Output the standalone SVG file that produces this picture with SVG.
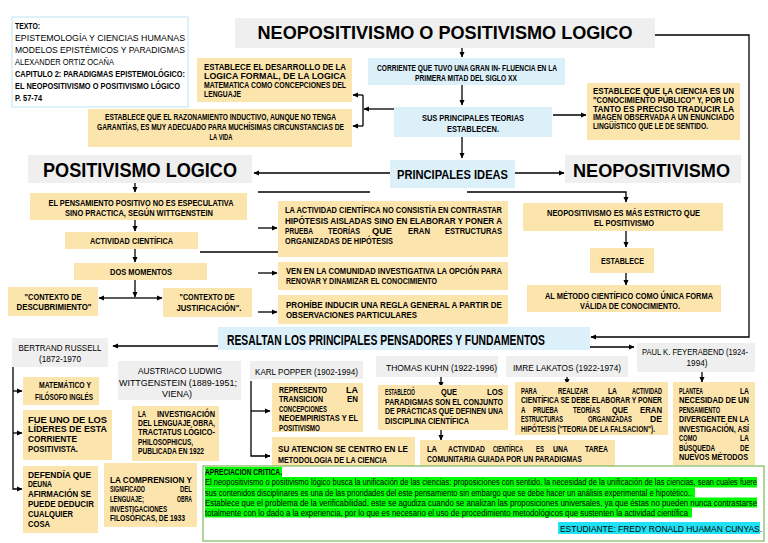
<svg xmlns="http://www.w3.org/2000/svg" width="768" height="543" viewBox="0 0 768 543">
<defs>
<marker id="ah" viewBox="0 0 10 10" refX="9" refY="5" markerWidth="6" markerHeight="6" markerUnits="userSpaceOnUse" orient="auto"><path d="M0,0.5 L10,5 L0,9.5 z" fill="#000"/></marker>
</defs>
<style>
.y{fill:#fce5ad}
.lb{fill:#dcf0fa}
.g{fill:#efefef}
.t{font-family:"Liberation Sans Narrow","Liberation Sans",Arial,sans-serif;font-weight:bold;font-size:8.3px;fill:#000}
.n{font-weight:normal}
.m{text-anchor:middle}
.h{font-family:"Liberation Sans",Arial,sans-serif;font-weight:bold;fill:#000}
.ln{stroke:#000;stroke-width:1.3;fill:none}
.ar{marker-end:url(#ah)}
</style>
<rect x="0" y="0" width="768" height="543" fill="#fff"/>

<g id="connectors">
<path class="ln ar" d="M462,48 V57"/>
<path class="ln ar" d="M462,85 V105"/>
<path class="ln ar" d="M462,137 V158"/>
<path class="ln ar" d="M394,109 H364"/>
<path class="ln" d="M363,95 V126"/>
<path class="ln ar" d="M363,95 H353"/>
<path class="ln ar" d="M363,126 H353"/>
<path class="ln ar" d="M553,115 H586"/>
<path class="ln ar" d="M655,35 H749 V337 H591"/>
<path class="ln ar" d="M390,173 H254"/>
<path class="ln ar" d="M515,173 H564"/>
<path class="ln" d="M258,192 H370"/>
<path class="ln ar" d="M467,192 H626 V202"/>
<path class="ln ar" d="M258,228 H277"/>
<path class="ln" d="M200,252 H319"/>
<path class="ln ar" d="M258,273 H277"/>
<path class="ln ar" d="M258,312 H277"/>
<path class="ln ar" d="M135,183 V192"/>
<path class="ln ar" d="M63,204 V213"/>
<path class="ln ar" d="M135,220 V231"/>
<path class="ln ar" d="M135,249 V262"/>
<path class="ln ar" d="M135,280 V297"/>
<path class="ln ar" d="M130,298 H99"/>
<path class="ln ar" d="M130,298 H162"/>
<path class="ln ar" d="M626,231 V247"/>
<path class="ln ar" d="M626,273 V285"/>
<path class="ln ar" d="M218,346 H113"/>
<path class="ln ar" d="M590,347 H634"/>
<path class="ln ar" d="M13,367 V489 H22"/>
<path class="ln ar" d="M13,391 H22"/>
<path class="ln ar" d="M13,433 H22"/>
<path class="ln ar" d="M251,381 V456 H270"/>
<path class="ln ar" d="M251,411 H270"/>
<path class="ln ar" d="M441,377 V387"/>
<path class="ln ar" d="M441,430 V440"/>
<path class="ln ar" d="M567,377 V384"/>
<path class="ln ar" d="M702,372 V382"/>
</g>

<g id="title">
<rect x="235" y="18" width="420" height="30" class="g"/>
<text x="445" y="38.5" class="h m" font-size="18" textLength="375" lengthAdjust="spacingAndGlyphs">NEOPOSITIVISMO O POSITIVISMO LOGICO</text>
</g>

<g id="texto">
<rect x="12" y="17" width="176" height="90" fill="#fff" stroke="#bfe3f2" stroke-width="1"/>
<text x="15" y="29" class="t" font-size="10.4" textLength="25" lengthAdjust="spacingAndGlyphs">TEXTO:</text>
<text x="15" y="41" class="t n" font-size="10.4" fill="#333" textLength="170" lengthAdjust="spacingAndGlyphs">EPISTEMOLOGÍA Y CIENCIAS HUMANAS</text>
<text x="15" y="53" class="t n" font-size="10.4" fill="#333" textLength="170" lengthAdjust="spacingAndGlyphs">MODELOS EPISTÉMICOS Y PARADIGMAS</text>
<text x="15" y="65" class="t n" font-size="10.4" fill="#333" textLength="99" lengthAdjust="spacingAndGlyphs">ALEXANDER ORTIZ OCAÑA</text>
<text x="15" y="77" class="t" font-size="10.4" textLength="170" lengthAdjust="spacingAndGlyphs">CAPITULO 2: PARADIGMAS EPISTEMOLÓGICO:</text>
<text x="15" y="89" class="t" font-size="10.4" textLength="165" lengthAdjust="spacingAndGlyphs">EL NEOPOSITIVISMO O POSITIVISMO LÓGICO</text>
<text x="15" y="101" class="t" font-size="10.4" textLength="27" lengthAdjust="spacingAndGlyphs">P. 57-74</text>
</g>

<g id="corriente">
<rect x="368" y="58" width="197" height="27" class="lb"/>
<text x="467" y="71" class="t m" textLength="180" lengthAdjust="spacingAndGlyphs">CORRIENTE QUE TUVO UNA GRAN IN- FLUENCIA EN LA</text>
<text x="466" y="81" class="t m" textLength="102" lengthAdjust="spacingAndGlyphs">PRIMERA MITAD DEL SIGLO XX</text>
</g>

<g id="teorias">
<rect x="394" y="107" width="158" height="30" class="lb"/>
<text x="473" y="121" class="t m" font-size="9.5" textLength="102" lengthAdjust="spacingAndGlyphs">SUS PRINCIPALES TEORIAS</text>
<text x="473" y="131.5" class="t m" font-size="9.5" textLength="52" lengthAdjust="spacingAndGlyphs">ESTABLECEN.</text>
</g>

<g id="publico">
<rect x="587" y="83" width="153" height="57" class="y"/>
<text x="593" y="94" class="t" font-size="7.8" textLength="141" lengthAdjust="spacingAndGlyphs">ESTABLECE QUE LA CIENCIA ES UN</text>
<text x="593" y="103" class="t" font-size="7.8" textLength="141" lengthAdjust="spacingAndGlyphs">"CONOCIMIENTO PÚBLICO" Y, POR LO</text>
<text x="593" y="111.7" class="t" font-size="7.8" textLength="141" lengthAdjust="spacingAndGlyphs">TANTO ES PRECISO TRADUCIR LA</text>
<text x="593" y="120.4" class="t" font-size="7.8" textLength="141" lengthAdjust="spacingAndGlyphs">IMAGEN OBSERVADA A UN ENUNCIADO</text>
<text x="593" y="129.2" class="t" font-size="7.8" textLength="115" lengthAdjust="spacingAndGlyphs">LINGÜÍSTICO QUE LE DE SENTIDO.</text>
</g>

<g id="logica">
<rect x="197" y="58" width="155" height="44" class="y"/>
<text x="204" y="70" class="t" font-size="7.8" textLength="142" lengthAdjust="spacingAndGlyphs">ESTABLECE EL DESARROLLO DE LA</text>
<text x="204" y="79" class="t" font-size="7.8" textLength="142" lengthAdjust="spacingAndGlyphs">LOGICA FORMAL, DE LA LOGICA</text>
<text x="204" y="88" class="t" font-size="7.8" textLength="142" lengthAdjust="spacingAndGlyphs">MATEMATICA COMO CONCEPCIONES DEL</text>
<text x="204" y="97" class="t" font-size="7.8" textLength="37" lengthAdjust="spacingAndGlyphs">LENGUAJE</text>
</g>

<g id="inductivo">
<rect x="88" y="109" width="264" height="38" class="y"/>
<text x="220.5" y="120" class="t m" textLength="231" lengthAdjust="spacingAndGlyphs">ESTABLECE QUE EL RAZONAMIENTO INDUCTIVO, AUNQUE NO TENGA</text>
<text x="220.5" y="130" class="t m" textLength="247" lengthAdjust="spacingAndGlyphs">GARANTÍAS, ES MUY ADECUADO PARA MUCHÍSIMAS CIRCUNSTANCIAS DE</text>
<text x="221" y="140" class="t m" textLength="23" lengthAdjust="spacingAndGlyphs">LA VIDA</text>
</g>

<g id="ideas">
<rect x="390" y="160" width="125" height="28" class="lb"/>
<text x="452.5" y="179" class="h m n" font-size="13.5" textLength="111" lengthAdjust="spacingAndGlyphs">PRINCIPALES IDEAS</text>
</g>

<g id="poslogico">
<rect x="28" y="155" width="224" height="28" class="g"/>
<text x="140" y="177" class="h m" font-size="19.5" textLength="194" lengthAdjust="spacingAndGlyphs">POSITIVISMO LOGICO</text>
</g>

<g id="neopos">
<rect x="565" y="155" width="176" height="28" class="g"/>
<text x="651.5" y="176.5" class="h m" font-size="18.5" textLength="157" lengthAdjust="spacingAndGlyphs">NEOPOSITIVISMO</text>
</g>

<g id="pensamiento">
<rect x="30" y="193" width="217" height="27" class="y"/>
<text x="141" y="206" class="t m" textLength="185" lengthAdjust="spacingAndGlyphs">EL PENSAMIENTO POSITIVO NO ES ESPECULATIVA</text>
<text x="139" y="216" class="t m" textLength="148" lengthAdjust="spacingAndGlyphs">SINO PRACTICA, SEGÚN WITTGENSTEIN</text>
</g>

<g id="actividad">
<rect x="65" y="232" width="133" height="17" class="y"/>
<text x="131.5" y="243.5" class="t m" textLength="83" lengthAdjust="spacingAndGlyphs">ACTIVIDAD CIENTÍFICA</text>
</g>

<g id="momentos">
<rect x="74" y="263" width="133" height="17" class="y"/>
<text x="141" y="275" class="t m" textLength="62" lengthAdjust="spacingAndGlyphs">DOS MOMENTOS</text>
</g>

<g id="descubrimiento">
<rect x="8" y="287" width="90" height="29" class="y"/>
<text x="53" y="300" class="t m" textLength="57" lengthAdjust="spacingAndGlyphs">"CONTEXTO DE</text>
<text x="54" y="310" class="t m" textLength="75" lengthAdjust="spacingAndGlyphs">DESCUBRIMIENTO"</text>
</g>

<g id="justificacion">
<rect x="163" y="288" width="89" height="29" class="y"/>
<text x="207" y="300" class="t m" textLength="55" lengthAdjust="spacingAndGlyphs">"CONTEXTO DE</text>
<text x="209" y="310.5" class="t m" textLength="65" lengthAdjust="spacingAndGlyphs">JUSTIFICACIÓN".</text>
</g>

<g id="contrastar">
<rect x="278" y="201" width="230" height="56" class="y"/>
<text x="285" y="213" class="t" textLength="217" lengthAdjust="spacingAndGlyphs">LA ACTIVIDAD CIENTÍFICA NO CONSISTÍA EN CONTRASTAR</text>
<text x="285" y="223.5" class="t" textLength="217" lengthAdjust="spacingAndGlyphs">HIPÓTESIS AISLADAS SINO EN ELABORAR Y PONER A</text>
<text x="285" y="234" class="t" textLength="28" lengthAdjust="spacingAndGlyphs">PRUEBA</text>
<text x="328" y="234" class="t" textLength="32" lengthAdjust="spacingAndGlyphs">TEORÍAS</text>
<text x="372" y="234" class="t" textLength="20" lengthAdjust="spacingAndGlyphs">QUE</text>
<text x="408" y="234" class="t" textLength="22" lengthAdjust="spacingAndGlyphs">ERAN</text>
<text x="445" y="234" class="t" textLength="57" lengthAdjust="spacingAndGlyphs">ESTRUCTURAS</text>
<text x="285" y="244" class="t" textLength="108" lengthAdjust="spacingAndGlyphs">ORGANIZADAS DE HIPÓTESIS</text>
</g>

<g id="comunidad">
<rect x="278" y="262" width="230" height="28" class="y"/>
<text x="286" y="273.5" class="t" textLength="216" lengthAdjust="spacingAndGlyphs">VEN EN LA COMUNIDAD INVESTIGATIVA LA OPCIÓN PARA</text>
<text x="286" y="284" class="t" textLength="151" lengthAdjust="spacingAndGlyphs">RENOVAR Y DINAMIZAR EL CONOCIMIENTO</text>
</g>

<g id="prohibe">
<rect x="278" y="295" width="230" height="29" class="y"/>
<text x="286" y="307.5" class="t" textLength="216" lengthAdjust="spacingAndGlyphs">PROHÍBE INDUCIR UNA REGLA GENERAL A PARTIR DE</text>
<text x="286" y="317.5" class="t" textLength="131" lengthAdjust="spacingAndGlyphs">OBSERVACIONES PARTICULARES</text>
</g>

<g id="estricto">
<rect x="523" y="203" width="200" height="28" class="y"/>
<text x="623.5" y="216" class="t m" textLength="153" lengthAdjust="spacingAndGlyphs">NEOPOSITIVISMO ES MÁS ESTRICTO QUE</text>
<text x="624" y="226" class="t m" textLength="60" lengthAdjust="spacingAndGlyphs">EL POSITIVISMO</text>
</g>

<g id="establece">
<rect x="590" y="248" width="64" height="25" class="y"/>
<text x="622.5" y="264" class="t m" textLength="43" lengthAdjust="spacingAndGlyphs">ESTABLECE</text>
</g>

<g id="metodo">
<rect x="527" y="285" width="194" height="27" class="y"/>
<text x="629" y="299" class="t m" textLength="168" lengthAdjust="spacingAndGlyphs">AL MÉTODO CIENTÍFICO COMO ÚNICA FORMA</text>
<text x="630" y="309" class="t m" textLength="100" lengthAdjust="spacingAndGlyphs">VÁLIDA DE CONOCIMIENTO.</text>
</g>

<g id="resaltan">
<rect x="218" y="327" width="372" height="23" class="lb"/>
<text x="227" y="345" class="h n" font-size="14.5" textLength="318" lengthAdjust="spacingAndGlyphs">RESALTAN LOS PRINCIPALES PENSADORES Y FUNDAMENTOS</text>
</g>

<g id="russell">
<rect x="12" y="338" width="96" height="29" class="g"/>
<text x="60" y="350.5" class="t n m" font-size="10" textLength="83" lengthAdjust="spacingAndGlyphs">BERTRAND RUSSELL</text>
<text x="60" y="362" class="t n m" font-size="10" textLength="42" lengthAdjust="spacingAndGlyphs">(1872-1970</text>
</g>

<g id="matematico">
<rect x="23" y="377" width="76" height="28" class="y"/>
<text x="65" y="388" class="t m" font-size="9.2" textLength="52" lengthAdjust="spacingAndGlyphs">MATEMÁTICO Y</text>
<text x="64" y="400" class="t m" font-size="9.2" textLength="58" lengthAdjust="spacingAndGlyphs">FILÓSOFO INGLÉS</text>
</g>

<g id="lideres">
<rect x="23" y="410" width="89" height="50" class="y"/>
<text x="28" y="422.5" class="t" font-size="8.8" textLength="79" lengthAdjust="spacingAndGlyphs">FUE UNO DE LOS</text>
<text x="28" y="432.3" class="t" font-size="8.8" textLength="79" lengthAdjust="spacingAndGlyphs">LÍDERES DE ESTA</text>
<text x="28" y="442.1" class="t" font-size="8.8" textLength="49" lengthAdjust="spacingAndGlyphs">CORRIENTE</text>
<text x="28" y="451.9" class="t" font-size="8.8" textLength="50" lengthAdjust="spacingAndGlyphs">POSITIVISTA.</text>
</g>

<g id="defendia">
<rect x="23" y="466" width="75" height="67" class="y"/>
<text x="28" y="477.5" class="t" font-size="8.8" textLength="63" lengthAdjust="spacingAndGlyphs">DEFENDÍA QUE</text>
<text x="28" y="487.3" class="t" font-size="8.8" textLength="24" lengthAdjust="spacingAndGlyphs">DEUNA</text>
<text x="28" y="497.1" class="t" font-size="8.8" textLength="63" lengthAdjust="spacingAndGlyphs">AFIRMACIÓN SE</text>
<text x="28" y="506.9" class="t" font-size="8.8" textLength="66" lengthAdjust="spacingAndGlyphs">PUEDE DEDUCIR</text>
<text x="28" y="516.7" class="t" font-size="8.8" textLength="45" lengthAdjust="spacingAndGlyphs">CUALQUIER</text>
<text x="28" y="526.5" class="t" font-size="8.8" textLength="22" lengthAdjust="spacingAndGlyphs">COSA</text>
</g>

<g id="wittgenstein">
<rect x="118" y="361" width="123" height="39" class="g"/>
<text x="180" y="373.5" class="t n m" font-size="10" textLength="84" lengthAdjust="spacingAndGlyphs">AUSTRIACO LUDWIG</text>
<text x="178" y="385.5" class="t n m" font-size="10" textLength="118" lengthAdjust="spacingAndGlyphs">WITTGENSTEIN (1889-1951;</text>
<text x="177" y="397" class="t n m" font-size="10" textLength="30" lengthAdjust="spacingAndGlyphs">VIENA)</text>
</g>

<g id="tractatus">
<rect x="132" y="406" width="87" height="55" class="y"/>
<text x="138" y="416.5" class="t" textLength="8" lengthAdjust="spacingAndGlyphs">LA</text>
<text x="157" y="416.5" class="t" textLength="58" lengthAdjust="spacingAndGlyphs">INVESTIGACIÓN</text>
<text x="138" y="425.9" class="t" textLength="77" lengthAdjust="spacingAndGlyphs">DEL LENGUAJE OBRA,</text>
<text x="138" y="435.3" class="t" textLength="77" lengthAdjust="spacingAndGlyphs">TRACTATUS LÓGICO-</text>
<text x="138" y="444.7" class="t" textLength="55" lengthAdjust="spacingAndGlyphs">PHILOSOPHICUS,</text>
<text x="138" y="454.1" class="t" textLength="66" lengthAdjust="spacingAndGlyphs">PUBLICADA EN 1922</text>
</g>

<g id="investigaciones">
<rect x="104" y="463" width="93" height="64" class="y"/>
<text x="110" y="482.5" class="t" textLength="82" lengthAdjust="spacingAndGlyphs">LA COMPRENSION Y</text>
<text x="110" y="492.2" class="t" textLength="35" lengthAdjust="spacingAndGlyphs">SIGNIFICADO</text>
<text x="180" y="492.2" class="t" textLength="12" lengthAdjust="spacingAndGlyphs">DEL</text>
<text x="110" y="501.9" class="t" textLength="34" lengthAdjust="spacingAndGlyphs">LENGUAJE;</text>
<text x="177" y="501.9" class="t" textLength="15" lengthAdjust="spacingAndGlyphs">OBRA</text>
<text x="110" y="511.6" class="t" textLength="57" lengthAdjust="spacingAndGlyphs">INVESTIGACIONES</text>
<text x="110" y="521.3" class="t" textLength="75" lengthAdjust="spacingAndGlyphs">FILOSÓFICAS, DE 1933</text>
</g>

<g id="popper">
<rect x="250" y="361" width="113" height="18" class="g"/>
<text x="306.5" y="374.5" class="t n m" font-size="10.5" textLength="103" lengthAdjust="spacingAndGlyphs">KARL POPPER (1902-1994)</text>
</g>

<g id="transicion">
<rect x="272" y="383" width="91" height="49" class="y"/>
<text x="279" y="393" class="t" textLength="48" lengthAdjust="spacingAndGlyphs">REPRESENTO</text>
<text x="346" y="393" class="t" textLength="12" lengthAdjust="spacingAndGlyphs">LA</text>
<text x="279" y="402.4" class="t" textLength="44" lengthAdjust="spacingAndGlyphs">TRANSICION</text>
<text x="347" y="402.4" class="t" textLength="11" lengthAdjust="spacingAndGlyphs">EN</text>
<text x="279" y="411.8" class="t" textLength="48" lengthAdjust="spacingAndGlyphs">CONCEPCIONES</text>
<text x="279" y="421.2" class="t" textLength="79" lengthAdjust="spacingAndGlyphs">NEOEMPIRISTAS Y EL</text>
<text x="279" y="430.6" class="t" textLength="41" lengthAdjust="spacingAndGlyphs">POSITIVISMO</text>
</g>

<g id="atencion">
<rect x="272" y="437" width="143" height="31" class="y"/>
<text x="278" y="452" class="t" font-size="9.3" textLength="130" lengthAdjust="spacingAndGlyphs">SU ATENCION SE CENTRO EN LE</text>
<text x="278" y="462.8" class="t" font-size="9.3" textLength="109" lengthAdjust="spacingAndGlyphs">METODOLOGIA DE LA CIENCIA</text>
</g>

<g id="kuhn">
<rect x="376" y="356" width="122" height="21" class="g"/>
<text x="441.5" y="371" class="t n m" font-size="10.5" textLength="111" lengthAdjust="spacingAndGlyphs">THOMAS KUHN (1922-1996)</text>
</g>

<g id="paradigmas">
<rect x="378" y="385" width="130" height="45" class="y"/>
<text x="385" y="395" class="t" textLength="30" lengthAdjust="spacingAndGlyphs">ESTABLECIÓ</text>
<text x="441" y="395" class="t" textLength="16" lengthAdjust="spacingAndGlyphs">QUE</text>
<text x="487" y="395" class="t" textLength="16" lengthAdjust="spacingAndGlyphs">LOS</text>
<text x="385" y="404.5" class="t" textLength="118" lengthAdjust="spacingAndGlyphs">PARADIGMAS SON EL CONJUNTO</text>
<text x="385" y="414" class="t" textLength="118" lengthAdjust="spacingAndGlyphs">DE PRÁCTICAS QUE DEFINEN UNA</text>
<text x="385" y="423.5" class="t" textLength="84" lengthAdjust="spacingAndGlyphs">DISCIPLINA CIENTÍFICA</text>
</g>

<g id="tarea">
<rect x="420" y="440" width="195" height="28" class="y"/>
<text x="427" y="451.5" class="t" textLength="10" lengthAdjust="spacingAndGlyphs">LA</text>
<text x="448" y="451.5" class="t" textLength="37" lengthAdjust="spacingAndGlyphs">ACTIVIDAD</text>
<text x="493" y="451.5" class="t" font-size="7.5" textLength="30" lengthAdjust="spacingAndGlyphs">CIENTÍFICA</text>
<text x="536" y="451.5" class="t" textLength="8" lengthAdjust="spacingAndGlyphs">ES</text>
<text x="553" y="451.5" class="t" textLength="15" lengthAdjust="spacingAndGlyphs">UNA</text>
<text x="585" y="451.5" class="t" textLength="23" lengthAdjust="spacingAndGlyphs">TAREA</text>
<text x="427" y="461.5" class="t" textLength="155" lengthAdjust="spacingAndGlyphs">COMUNITARIA GUIADA POR UN PARADIGMAS</text>
</g>

<g id="lakatos">
<rect x="506" y="356" width="122" height="21" class="g"/>
<text x="567" y="370.5" class="t n m" font-size="10.5" textLength="108" lengthAdjust="spacingAndGlyphs">IMRE LAKATOS (1922-1974)</text>
</g>

<g id="falsacion">
<rect x="515" y="382" width="153" height="53" class="y"/>
<text x="521" y="393.5" class="t" textLength="16" lengthAdjust="spacingAndGlyphs">PARA</text>
<text x="558" y="393.5" class="t" textLength="30" lengthAdjust="spacingAndGlyphs">REALIZAR</text>
<text x="608" y="393.5" class="t" textLength="9" lengthAdjust="spacingAndGlyphs">LA</text>
<text x="632" y="393.5" class="t" textLength="30" lengthAdjust="spacingAndGlyphs">ACTIVIDAD</text>
<text x="521" y="403.1" class="t" textLength="141" lengthAdjust="spacingAndGlyphs">CIENTÍFICA SE DEBE ELABORAR Y PONER</text>
<text x="521" y="412.7" class="t" textLength="4.5" lengthAdjust="spacingAndGlyphs">A</text>
<text x="533" y="412.7" class="t" textLength="25" lengthAdjust="spacingAndGlyphs">PRUEBA</text>
<text x="573" y="412.7" class="t" textLength="27" lengthAdjust="spacingAndGlyphs">TEORÍAS</text>
<text x="612" y="412.7" class="t" textLength="16" lengthAdjust="spacingAndGlyphs">QUE</text>
<text x="640" y="412.7" class="t" textLength="22" lengthAdjust="spacingAndGlyphs">ERAN</text>
<text x="521" y="422.3" class="t" textLength="42" lengthAdjust="spacingAndGlyphs">ESTRUCTURAS</text>
<text x="588" y="422.3" class="t" textLength="44" lengthAdjust="spacingAndGlyphs">ORGANIZADAS</text>
<text x="650" y="422.3" class="t" textLength="12" lengthAdjust="spacingAndGlyphs">DE</text>
<text x="521" y="431.9" class="t" textLength="134" lengthAdjust="spacingAndGlyphs">HIPÓTESIS ("TEORIA DE LA FALSACION").</text>
</g>

<g id="feyerabend">
<rect x="637" y="343" width="118" height="29" class="g"/>
<text x="695" y="354.5" class="t n m" font-size="10" textLength="106" lengthAdjust="spacingAndGlyphs">PAUL K. FEYERABEND (1924-</text>
<text x="697" y="366" class="t n m" font-size="10" textLength="21" lengthAdjust="spacingAndGlyphs">1994)</text>
</g>

<g id="divergente">
<rect x="673" y="382" width="82" height="83" class="y"/>
<text x="679" y="393.5" class="t" textLength="24" lengthAdjust="spacingAndGlyphs">PLANTEA</text>
<text x="740" y="393.5" class="t" textLength="9" lengthAdjust="spacingAndGlyphs">LA</text>
<text x="679" y="403" class="t" textLength="70" lengthAdjust="spacingAndGlyphs">NECESIDAD DE UN</text>
<text x="679" y="412.5" class="t" textLength="41" lengthAdjust="spacingAndGlyphs">PENSAMIENTO</text>
<text x="679" y="422" class="t" textLength="70" lengthAdjust="spacingAndGlyphs">DIVERGENTE EN LA</text>
<text x="679" y="431.5" class="t" textLength="70" lengthAdjust="spacingAndGlyphs">INVESTIGACIÓN, ASÍ</text>
<text x="679" y="441" class="t" textLength="18" lengthAdjust="spacingAndGlyphs">COMO</text>
<text x="740" y="441" class="t" textLength="9" lengthAdjust="spacingAndGlyphs">LA</text>
<text x="679" y="450.5" class="t" textLength="36" lengthAdjust="spacingAndGlyphs">BÚSQUEDA</text>
<text x="740" y="450.5" class="t" textLength="9" lengthAdjust="spacingAndGlyphs">DE</text>
<text x="679" y="460" class="t" textLength="69" lengthAdjust="spacingAndGlyphs">NUEVOS MÉTODOS</text>
</g>

<g id="apreciacion">
<rect x="203" y="466" width="561" height="75" fill="#fff" stroke="#7cb85a" stroke-width="1.2"/>
<rect x="205" y="467" width="77" height="10" fill="#00ff00"/>
<rect x="205" y="477" width="552" height="10.5" fill="#00ff00"/>
<rect x="205" y="487.5" width="490" height="10" fill="#00ff00"/>
<rect x="205" y="497.5" width="552" height="10" fill="#00ff00"/>
<rect x="205" y="507.5" width="487" height="10" fill="#00ff00"/>
<text x="205" y="474.5" class="t" font-size="7.5" textLength="77" lengthAdjust="spacingAndGlyphs">APRECIACION CRITICA.</text>
<text x="205" y="485" class="t n" font-size="6.6" textLength="552" lengthAdjust="spacingAndGlyphs">El neopositivismo o positivismo lógico busca la unificación de las ciencias: proposiciones con sentido. la necesidad de la unificación de las ciencias, sean cuales fuere</text>
<text x="205" y="495.5" class="t n" font-size="6.6" textLength="487" lengthAdjust="spacingAndGlyphs">sus contenidos disciplinares es una de las prioridades del este pensamiento sin embargo que se debe hacer un análisis experimental e hipotético..</text>
<text x="205" y="505.5" class="t n" font-size="6.6" textLength="552" lengthAdjust="spacingAndGlyphs">Establece que el problema de la verificabilidad. este se agudiza cuando se analizan las proposiciones universales, ya que éstas no pueden nunca contrastarse</text>
<text x="205" y="515.5" class="t n" font-size="6.6" textLength="483" lengthAdjust="spacingAndGlyphs">totalmente con lo dado a la experiencia, por lo que es necesario el uso de procedimiento metodológicos que sustenten la actividad científica</text>
<rect x="558" y="522" width="202" height="12" fill="#1fe3f5"/>
<text x="560" y="531.5" class="t n" font-size="10" textLength="202" lengthAdjust="spacingAndGlyphs">ESTUDIANTE: FREDY RONALD HUAMAN CUNYAS.</text>
</g>
</svg>
